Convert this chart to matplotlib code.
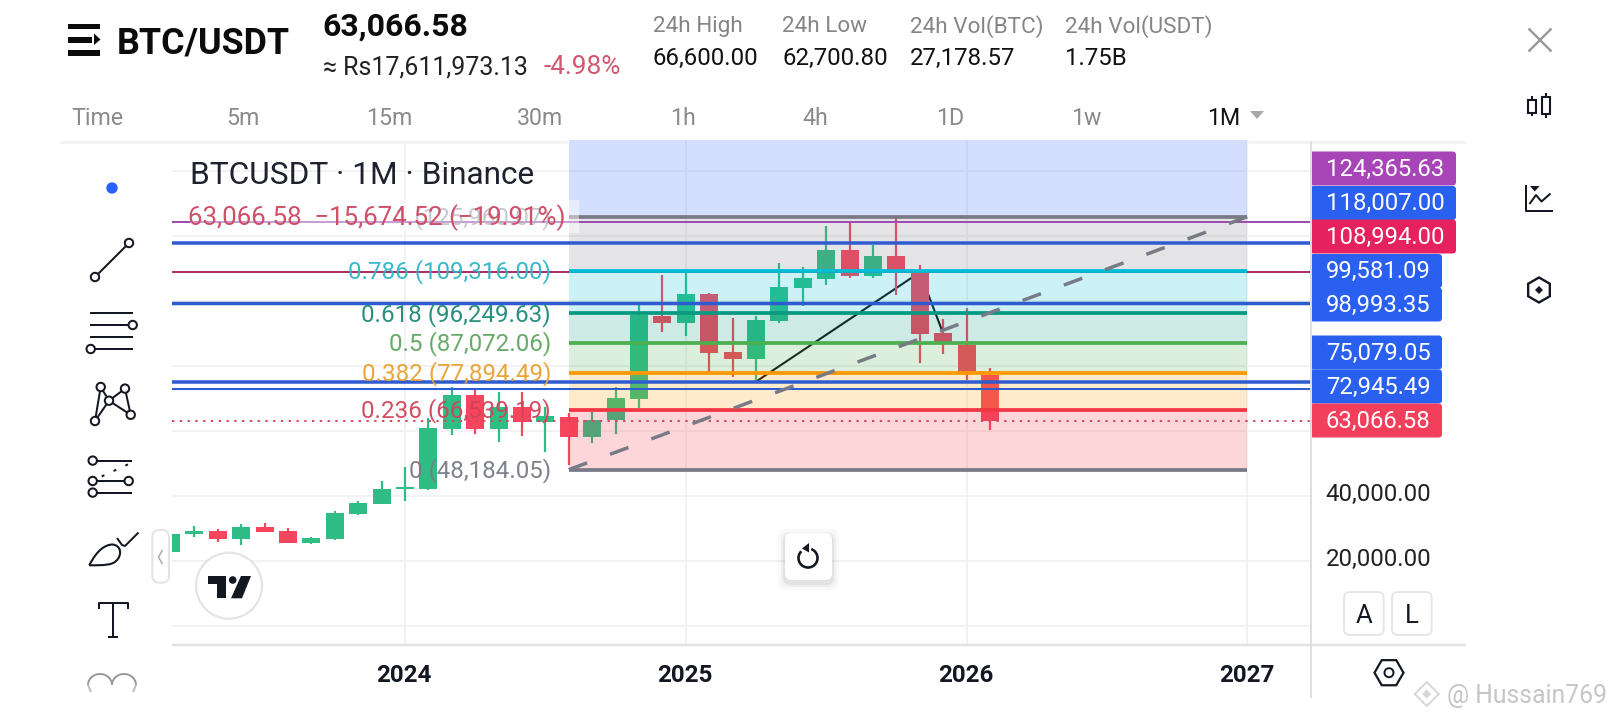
import numpy as np
import matplotlib
matplotlib.use("Agg")
import matplotlib.pyplot as plt
from matplotlib.patches import FancyBboxPatch, Circle, Rectangle, RegularPolygon, Polygon, PathPatch
from matplotlib.path import Path
from matplotlib.transforms import ScaledTranslation

plt.rcParams['font.family'] = ['Roboto', 'DejaVu Sans']

# ---------- data ----------
months = list(range(-10, 26))   # months counted from Jan 2024
opens = [22883, 28313, 29338, 26879, 30568, 29338, 25750, 26879, 34667, 37740, 42354, 42354,
         60798, 71045, 60591, 67355, 62745, 64485, 58235, 63461, 70019, 95432, 93382, 102092,
         84262, 82316, 93997, 104141, 106908, 115618, 107830, 113876, 108547, 90103, 86516, 77295]
closes = [28313, 29338, 26879, 30568, 29133, 25750, 27188, 34872, 37945, 42246, 42970, 61104,
          71045, 60591, 67355, 62745, 64692, 58235, 63461, 70122, 95739, 93382, 102092, 84160,
          82316, 94202, 104244, 107010, 115618, 107830, 113876, 109572, 89898, 87337, 78319, 63066]
highs = [28700, 30978, 29950, 31490, 31900, 30260, 27597, 35487, 38560, 44709, 49115, 63973,
         73503, 72990, 71966, 72171, 67560, 65510, 66021, 73503, 99325, 108035, 108547, 102400,
         94817, 95432, 111622, 110392, 123098, 123918, 117258, 125455, 111007, 94407, 97890, 79343]
lows = [22800, 27390, 26060, 25034, 28930, 25547, 25240, 26571, 34257, 37535, 38560, 41942,
        58850, 59157, 56800, 58643, 53726, 49730, 56288, 59157, 67048, 90513, 89385, 78524,
        76782, 75245, 93382, 98506, 104961, 107215, 107113, 101887, 80881, 83750, 75757, 60400]

fib_ratios = ['0', '0.236', '0.382', '0.5', '0.618', '0.786', '1', '1.618']
fib_prices = [48184.05, 66539.19, 77894.49, 87072.06, 96249.63, 109316.00, 125960.07, 174024.76]
fib_colors = ['#787b86', '#f23645', '#ff9800', '#4caf50', '#089981', '#00bcd4', '#787b86', '#2962ff']

line_prices = [124365.63, 118007.00, 108994.00, 99581.09, 98993.35, 75079.05, 72945.49]
line_colors = ['#9c4fb0', '#2f5bd0', '#ad2f68', '#2f5bd0', '#2f5bd0', '#2f5bd0', '#2f5bd0']
line_widths = [2, 3.5, 2, 2.5, 2.5, 3.5, 2]
last_price = 63066.58

trend_x = [7, 36]
trend_y = [48184.05, 125960.07]
path_x = [15, 22, 23]
path_y = [75245, 108855, 90103]

y_ticks = [0, 20000, 40000, 60000, 80000, 100000, 120000, 140000]
y_labels = ['', '20,000.00', '40,000.00', '', '', '', '', '']
x_ticks = [0, 12, 24, 36]
x_labels = ['2024', '2025', '2026', '2027']

tag_texts = ['124,365.63', '118,007.00', '108,994.00', '99,581.09', '98,993.35', '75,079.05', '72,945.49', '63,066.58']
tag_colors = ['#a744b8', '#2a60f0', '#e6215f', '#2a60f0', '#2a60f0', '#2a60f0', '#2a60f0', '#f23f5c']

header_heads = ['24h High', '24h Low', '24h Vol(BTC)', '24h Vol(USDT)']
header_vals = ['66,600.00', '62,700.80', '27,178.57', '1.75B']
intervals = ['5m', '15m', '30m', '1h', '4h', '1D', '1w', '1M']

# ---------- figure ----------
W, H = 1612, 720
fig = plt.figure(figsize=(W / 100, H / 100), dpi=100, facecolor='white')
L, R, T, B = 172, 1311, 140, 645
ax = fig.add_axes([L / W, 1 - B / H, (R - L) / W, (B - T) / H])
ax.set_xlim(-9.957, 38.72)
ax.set_ylim(-5705, 149537)
for s in ax.spines.values():
    s.set_visible(False)
ax.set_xticks(x_ticks, x_labels)
ax.set_yticks(y_ticks, y_labels)
ax.yaxis.tick_right()
ax.tick_params(length=0)
ax.tick_params(axis='y', pad=10.5, labelsize=17.3, labelcolor='#222222')
ax.tick_params(axis='x', pad=13.5, labelsize=17.4, labelcolor='#131722')
for lb in ax.get_xticklabels():
    lb.set_fontweight('bold')
    lb.set_transform(lb.get_transform() + ScaledTranslation(-1 / 100, 0, fig.dpi_scale_trans))
for lb in ax.get_yticklabels():
    lb.set_transform(lb.get_transform() + ScaledTranslation(0, 4 / 100, fig.dpi_scale_trans))
ax.grid(True, color='#f1f1f3', lw=1.3, zorder=0)
ax.set_axisbelow(True)

GREEN, RED = '#2ebd85', '#f6465d'
cols = [GREEN if c >= o else RED for o, c in zip(opens, closes)]

# black drawing sits under candles
ax.plot(path_x, path_y, color='#111111', lw=1.5, zorder=1.5)

ax.vlines(months, lows, highs, colors=cols, lw=1.6, zorder=2)
bots = [min(o, c) for o, c in zip(opens, closes)]
hs = [max(abs(c - o), 300) for o, c in zip(opens, closes)]
ax.bar(months, hs, bottom=bots, width=0.77, color=cols, lw=0, zorder=2.1)

# fib zones
for i in range(len(fib_prices) - 1):
    ax.fill_between(trend_x, fib_prices[i], fib_prices[i + 1], color=fib_colors[i + 1], alpha=0.2, lw=0, zorder=3)

# full-width price lines
for p, c, w in zip(line_prices, line_colors, line_widths):
    ax.axhline(p, color=c, lw=w * 0.72, zorder=3.2)
ax.axhline(last_price, color='#d8475f', lw=1.4, dashes=(1.2, 2.8), zorder=3.2)

# fib level lines
for p, c in zip(fib_prices[:-1], fib_colors[:-1]):
    ax.plot(trend_x, [p, p], color=c, lw=2.7, solid_capstyle='butt', zorder=3.4)

# dashed trend line
ax.plot(trend_x, trend_y, color='#787b86', lw=2.5, dashes=(5.65, 7.03), dash_capstyle='butt', zorder=3.5)

# fib labels
lab_x = (551 - 405) / 23.4
for r, p, c in zip(fib_ratios[:-2], fib_prices[:-2], ['#787b86', '#cf4458', '#e9a02f', '#5fa661', '#1d8a78', '#2fb4c8']):
    ax.annotate(f'{r} ({p:,.2f})', xy=(lab_x, p), xytext=(0, 1.4), textcoords='offset points',
                color=c, fontsize=17.4, ha='right', va='center_baseline', zorder=6, alpha=0.95)

# ---------- overlay in pixel coordinates ----------
ov = fig.add_axes([0, 0, 1, 1], zorder=5)
ov.set_xlim(0, W)
ov.set_ylim(H, 0)
ov.axis('off')
ov.patch.set_alpha(0)

INK = '#131722'


def ln(xs, ys, c=INK, w=2.0, **k):
    ov.plot(xs, ys, color=c, lw=w * 0.72, solid_capstyle=k.pop('cap', 'butt'), **k)


def ring(x, y, r=4.2, c=INK, w=2.0):
    ov.add_patch(Circle((x, y), r, fc='white', ec=c, lw=w * 0.72, zorder=4))


def box(x0, y0, x1, y1, fc, ec='none', r=3, lw=0, **k):
    ov.add_patch(FancyBboxPatch((x0, y0), x1 - x0, y1 - y0, boxstyle=f'round,pad=0,rounding_size={r}',
                                fc=fc, ec=ec, lw=lw, **k))


# frame lines
ln([60, 567], [141.7, 141.7], c='#f3f3f4', w=3)
ln([1248, 1466], [141.7, 141.7], c='#f3f3f4', w=3)
ln([172, 1466], [645, 645], c='#e2e2e4', w=2.5)
ln([1311, 1311], [141, 698], c='#dedee0', w=2)

# header
for y0, y1, x1 in [(24, 29, 100), (36.5, 42.5, 92), (50, 55.6, 100)]:
    ov.add_patch(Rectangle((68, y0), x1 - 68, y1 - y0, fc='#0b0b0b', lw=0))
ov.add_patch(Polygon([(94, 33.5), (100.5, 39.5), (94, 45)], fc='#0b0b0b', lw=0))
ov.text(116.5, 39.5, 'BTC/USDT', fontsize=25.8, fontweight='bold', color='#0b0b0b', va='center_baseline')
ov.text(322.7, 24, '63,066.58', fontsize=23, fontweight='bold', color='#0b0b0b', va='center_baseline')
ov.text(322.7, 65, '≈ Rs17,611,973.13', fontsize=17.9, color='#222222', va='center_baseline')
ov.text(544, 65, '-4.98%', fontsize=18.8, color='#d2566f', va='center_baseline')
for x, h, v in zip([653, 782, 909.6, 1065], header_heads, header_vals):
    ov.text(x, 24, h, fontsize=16.2, color='#858585', va='center_baseline')
    ov.text(x, 56, v, fontsize=17.3, color='#111111', va='center_baseline')

# interval row
ov.text(71, 116, 'Time', fontsize=16.7, color='#8a8a8a', va='center_baseline')
for x, t in zip([243, 389, 540, 683, 815, 950, 1086, 1224], intervals):
    c = '#111111' if t == '1M' else '#8a8a8a'
    ov.text(x, 116, t, fontsize=16.7, color=c, ha='center', va='center_baseline')
ov.add_patch(Polygon([(1250, 111), (1264, 111), (1257, 119)], fc='#a8a8a8', lw=0))

# chart titles
ov.text(190.5, 173, 'BTCUSDT · 1M · Binance', fontsize=22.8, color='#1e222d', va='center_baseline')
ov.add_patch(Rectangle((190, 200), 389, 33, fc='white', alpha=0.45, lw=0))
ov.text(550.7, 215, '1 (125,960.07)', fontsize=17.4, color='#b9bbc2', ha='right', va='center_baseline', alpha=0.8)
ov.text(188.5, 215, '63,066.58  −15,674.52 (−19.91%)', fontsize=18.6, color='#cf5068', va='center_baseline')

# price tags
tag_y = [168.5, 203, 236.5, 271, 304.5, 352.5, 386.5, 420.5]
tag_r = [1456, 1456, 1456, 1442, 1442, 1442, 1442, 1442]
for y, r, t, c in zip(tag_y, tag_r, tag_texts, tag_colors):
    box(1310, y - 17, r, y + 17, c, r=3.5)
    ov.text(r - 11.5, y - 2, t, fontsize=17.2, color='white', ha='right', va='center_baseline')

# left toolbar
ov.add_patch(Circle((112, 188), 5.7, fc='#2962ff', lw=0))
ln([95, 129], [277, 243])
ring(95, 277); ring(129, 243)
for y in [312.5, 325, 337, 349]:
    ln([90, 133], [y, y])
ring(132.7, 325); ring(90.7, 349)
pts = [(95, 421), (100.7, 387), (109, 400.7), (125, 388.6), (130.7, 414.8), (109, 400.7), (95, 421)]
ln([p[0] for p in pts], [p[1] for p in pts])
for p in pts[:5]:
    ring(p[0], p[1])
for y, x0 in [(460.6, 93), (481, 93), (492.6, 93)]:
    ln([x0, 131.7], [y, y])
ln([101.7, 128], [476.4, 464.4], w=2, linestyle=(0, (1.5, 5)))
ring(92.7, 460.6); ring(92.7, 481); ring(128.7, 481); ring(92.7, 492.6)
leaf = Path([(89.3, 565.3), (97, 550), (105, 545), (112, 544.5), (122, 545), (122, 556), (116, 561), (112, 565), (105, 565.3), (89.3, 565.3)],
            [Path.MOVETO, Path.CURVE4, Path.CURVE4, Path.CURVE4, Path.CURVE4, Path.CURVE4, Path.CURVE4, Path.CURVE4, Path.CURVE4, Path.CURVE4])
ov.add_patch(PathPatch(leaf, fc='none', ec=INK, lw=1.5))
ln([117, 122, 125, 138.5], [538, 545, 546, 532.5])
ln([113, 113], [603, 636.5])
ln([98.5, 98.5, 127.5, 127.5], [609, 603, 603, 609])
ln([108, 118], [636.5, 636.5])
# heart (partly faded at the window edge)
t = np.linspace(np.pi, 0, 40)
ln(100 + 12 * np.cos(t), 685 - 11 * np.sin(t), c='#9a9a9a', w=2)
ln(124 + 12 * np.cos(t), 685 - 11 * np.sin(t), c='#9a9a9a', w=2)
ln([88, 91], [685, 692], c='#bcbcbc', w=2)
ln([136, 133], [685, 692], c='#bcbcbc', w=2)

# sidebar handle
box(152.4, 530, 169, 582.7, 'white', ec='#e4e4e6', r=7, lw=1.5)
ln([162.5, 158.5, 162.5], [550, 557, 564], c='#aaaaaa', w=1.5)

# TV logo
ov.add_patch(Circle((229, 585.7), 33, fc='white', ec='#e4e4e8', lw=1.6))
ov.add_patch(Polygon([(208, 576), (226.3, 576), (226.3, 598.3), (217, 598.3), (217, 584), (208, 584)], fc=INK, lw=0))
ov.add_patch(Circle((232.7, 580), 3.8, fc=INK, lw=0))
ov.add_patch(Polygon([(241, 576), (251, 576), (242, 598.3), (231, 598.3)], fc=INK, lw=0))

# reset button
for g, a in [(7, 0.025), (4, 0.04), (2, 0.05)]:
    box(785 - g, 533 - g + 3, 832 + g, 580 + g + 3, 'black', r=8, alpha=a)
box(785, 533, 832, 580, 'white', r=7)
t = np.linspace(np.radians(-70), np.radians(225), 50)
ln(808 + 9.5 * np.cos(t), 558 + 9.5 * np.sin(t), w=2.6)
ov.add_patch(Polygon([(809, 543), (809, 552.5), (802, 548.5)], fc=INK, lw=0))

# A / L buttons
for x0, x1, s in [(1344, 1383.7, 'A'), (1392, 1431.7, 'L')]:
    box(x0, 592, x1, 635, 'white', ec='#e6e6e8', r=6, lw=1.4)
    ov.text((x0 + x1) / 2, 613.5, s, fontsize=18.5, color='#131722', ha='center', va='center_baseline')

# bottom hex
ov.add_patch(RegularPolygon((1389, 672.7), 6, radius=14.5, orientation=np.pi / 2, fc='none', ec=INK, lw=1.6))
ov.add_patch(Circle((1389, 672.7), 4.5, fc='none', ec=INK, lw=1.4))

# right icons
ln([1528.5, 1551.5], [28.5, 51.5], c='#9a9a9a', w=2.4)
ln([1528.5, 1551.5], [51.5, 28.5], c='#9a9a9a', w=2.4)
ln([1532, 1532], [96, 116], w=2)
ov.add_patch(Rectangle((1528, 99.5), 8, 13.5, fc='white', ec=INK, lw=1.5, zorder=3))
ln([1545.7, 1545.7], [93, 118], w=2)
ov.add_patch(Rectangle((1541.5, 97), 8.5, 17, fc='white', ec=INK, lw=1.5, zorder=3))
ln([1525.7, 1525.7, 1552.7], [185, 210.7, 210.7], w=2)
ln([1529.5, 1536, 1541.5, 1550.5], [204, 195, 201.5, 193.5], w=2)
ov.add_patch(Polygon([(1530, 186), (1539.5, 186), (1534.8, 191.5)], fc=INK, lw=0))
ov.add_patch(RegularPolygon((1539, 290), 6, radius=12.5, orientation=0, fc='none', ec=INK, lw=1.7))
ov.add_patch(RegularPolygon((1539, 290), 4, radius=4, orientation=0, fc=INK, lw=0))

# watermark
ov.add_patch(RegularPolygon((1426.7, 694), 4, radius=12, orientation=0, fc='none', ec='#d6d6d6', lw=1.4))
ov.add_patch(RegularPolygon((1426.7, 694), 4, radius=4.5, orientation=0, fc='#d6d6d6', lw=0))
ov.text(1447, 694, '@ Hussain769', fontsize=17.8, color='#c6c6c6', va='center_baseline')

fig.savefig('out.png', dpi=100)
